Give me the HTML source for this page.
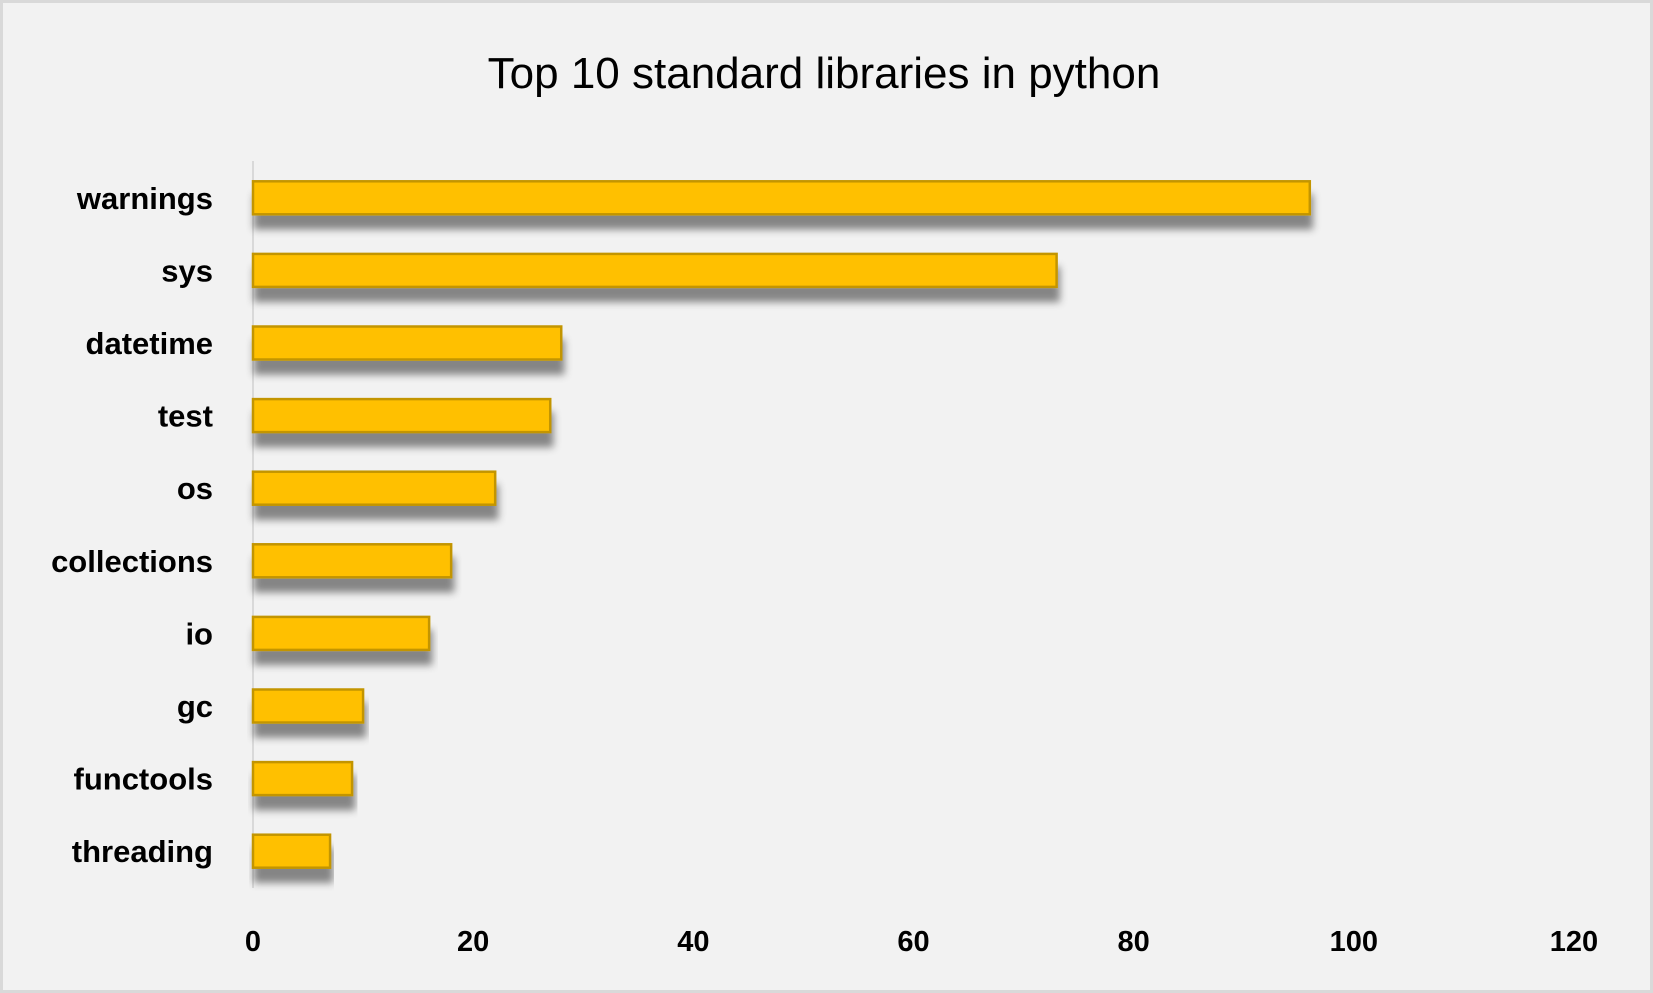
<!DOCTYPE html>
<html><head><meta charset="utf-8"><style>
html,body{margin:0;padding:0;background:#f2f2f2;}
svg{display:block;}
</style></head><body>
<svg width="1653" height="993" viewBox="0 0 1653 993" xmlns="http://www.w3.org/2000/svg">
<defs>
<filter id="sh" x="-5%" y="-50%" width="110%" height="250%">
<feDropShadow dx="2" dy="14" stdDeviation="4" flood-color="#000" flood-opacity="0.45"/>
</filter>
</defs>
<rect x="1.5" y="1.5" width="1650" height="990" fill="#f2f2f2" stroke="#d9d9d9" stroke-width="3"/>
<text x="824" y="88" text-anchor="middle" font-family="Liberation Sans, sans-serif" font-size="44" fill="#000">Top 10 standard libraries in python</text>
<line x1="253" y1="161" x2="253" y2="888" stroke="#d9d9d9" stroke-width="2"/>
<g id="bars"></g>
<g id="labels"></g>
<g id="ticks"></g>
</svg>
<script>
const categories = ["warnings","sys","datetime","test","os","collections","io","gc","functools","threading"];
const values = [96,73,28,27,22,18,16,10,9,7];
const tickValues = [0,20,40,60,80,100,120];
const NS = "http://www.w3.org/2000/svg";
const x0 = 253, pxPerUnit = 1321/120;
const yTop = 161.5, band = 72.6, barH = 33;
function xScale(v){ return x0 + v*pxPerUnit; }
function yScale(i){ return yTop + band*(i+0.5); }
const bars = document.getElementById('bars');
const labels = document.getElementById('labels');
const ticks = document.getElementById('ticks');
categories.forEach((c,i)=>{
  const r = document.createElementNS(NS,'rect');
  r.setAttribute('x', x0);
  r.setAttribute('y', yScale(i)-barH/2);
  r.setAttribute('width', xScale(values[i])-x0);
  r.setAttribute('height', barH);
  r.setAttribute('fill', '#ffc000');
  r.setAttribute('stroke', '#c39500');
  r.setAttribute('stroke-width', '2.5');
  r.setAttribute('filter', 'url(#sh)');
  
  
  bars.appendChild(r);
  const t = document.createElementNS(NS,'text');
  t.setAttribute('x', 213);
  t.setAttribute('y', yScale(i)+11);
  t.setAttribute('text-anchor', 'end');
  t.setAttribute('font-family', 'Liberation Sans, sans-serif');
  t.setAttribute('font-weight', 'bold');
  t.setAttribute('font-size', '31');
  t.textContent = c;
  
  
  labels.appendChild(t);
});
tickValues.forEach(v=>{
  const t = document.createElementNS(NS,'text');
  t.setAttribute('x', xScale(v));
  t.setAttribute('y', 951);
  t.setAttribute('text-anchor', 'middle');
  t.setAttribute('font-family', 'Liberation Sans, sans-serif');
  t.setAttribute('font-weight', 'bold');
  t.setAttribute('font-size', '29');
  t.textContent = v;
  
  
  ticks.appendChild(t);
});
</script>
</body></html>
